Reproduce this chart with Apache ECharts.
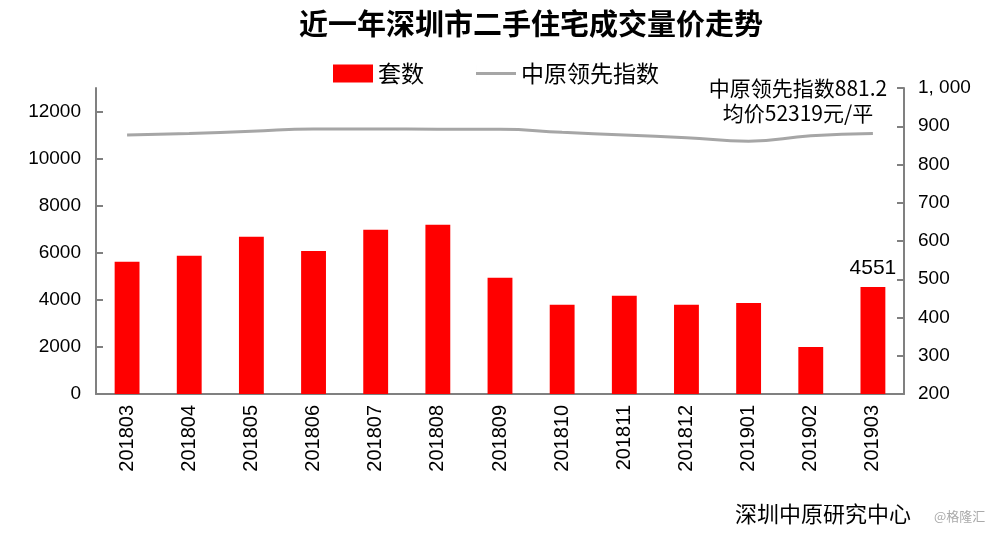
<!DOCTYPE html>
<html><head><meta charset="utf-8">
<script src="https://cdn.jsdelivr.net/npm/echarts@6/dist/echarts.min.js"></script>
<style>html,body{margin:0;padding:0;background:#fff}#c{width:995px;height:534px}</style>
</head><body><div id="c"></div>
<script>
const categories = ['201803','201804','201805','201806','201807','201808','201809','201810','201811','201812','201901','201902','201903'];
const sets = [5620, 5870, 6680, 6080, 6980, 7190, 4940, 3790, 4170, 3790, 3870, 2000, 4551];
const indexVals = [877, 881, 887, 893, 893, 892, 892, 884, 877, 870, 861, 875, 881.2];
const FONT = '"Liberation Sans", "Noto Sans CJK SC", sans-serif';
const CJK = '"Noto Sans CJK SC", sans-serif';
const axisColor = '#808080';
const chart = echarts.init(document.getElementById('c'));
chart.setOption({
  animation: false,
  title: {text: '近一年深圳市二手住宅成交量价走势', left: 294, top: 4,
    textStyle: {fontFamily: CJK, fontSize: 29, fontWeight: 'bold', color: '#000'}},
  legend: {top: 57, left: 328, itemGap: 52, itemWidth: 40, itemHeight: 18,
    textStyle: {fontFamily: CJK, fontSize: 23, color: '#000'},
    data: [{name: '套数', icon: 'rect'},
           {name: '中原领先指数', icon: 'path://M0,0H0.01V18H0Z M0,7.5H40V10.5H0Z', itemStyle: {color: '#a6a6a6'}}]},
  graphic: [
    {type: 'text', x: 798, y: 76, style: {text: '中原领先指数881.2\n均价52319元/平', textAlign: 'center', lineHeight: 25, font: '21px ' + CJK, fill: '#000'}},
    {type: 'text', x: 735, y: 503, style: {text: '深圳中原研究中心', font: '22px ' + CJK, fill: '#000'}},
    {type: 'text', x: 934, y: 510, style: {text: '@格隆汇', font: '13px ' + CJK, fill: '#aaa'}}
  ],
  grid: {left: 96, right: 91, top: 88, bottom: 140},
  xAxis: {type: 'category', data: categories, boundaryGap: true,
    axisLine: {lineStyle: {color: axisColor, width: 2}},
    axisTick: {inside: true, length: 7, lineStyle: {color: axisColor, width: 2}},
    axisLabel: {rotate: 90, margin: 11, fontFamily: FONT, fontSize: 20, color: '#000'}},
  yAxis: [
    {type: 'value', min: 0, max: 13000, interval: 2000, splitLine: {show: false},
      axisLine: {show: true, lineStyle: {color: axisColor, width: 2}},
      axisTick: {show: true, inside: true, length: 7, lineStyle: {color: axisColor, width: 2}},
      axisLabel: {showMaxLabel: false, margin: 15, fontFamily: FONT, fontSize: 19, color: '#000',
        formatter: v => String(v)}},
    {type: 'value', min: 200, max: 1000, interval: 100, splitLine: {show: false},
      axisLine: {show: true, lineStyle: {color: axisColor, width: 2}},
      axisTick: {show: true, inside: true, length: 7, lineStyle: {color: axisColor, width: 2}},
      axisLabel: {margin: 14, fontFamily: FONT, fontSize: 19, color: '#000',
        formatter: v => v >= 1000 ? Math.floor(v/1000) + ', ' + String(v % 1000).padStart(3, '0') : String(v)}}
  ],
  series: [
    {name: '套数', type: 'bar', data: sets, barWidth: '40%', itemStyle: {color: '#ff0000'},
      label: {show: true, position: 'top', distance: 8, fontFamily: FONT, fontSize: 21, color: '#000',
        formatter: p => p.dataIndex === sets.length - 1 ? String(p.value) : ''}},
    {name: '中原领先指数', type: 'line', yAxisIndex: 1, data: indexVals, smooth: true, symbol: 'none',
      lineStyle: {color: '#a6a6a6', width: 3}, itemStyle: {color: '#a6a6a6'}}
  ]
});
</script></body></html>
